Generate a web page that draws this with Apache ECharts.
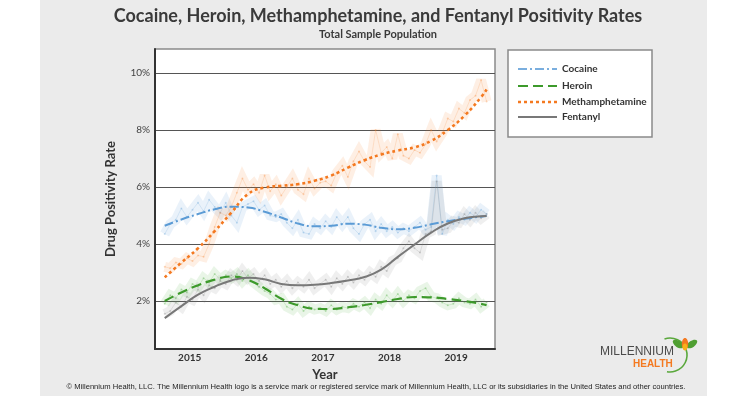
<!DOCTYPE html>
<html><head><meta charset="utf-8">
<script src="https://cdn.jsdelivr.net/npm/echarts@6/dist/echarts.min.js"></script>
<style>html,body{margin:0;padding:0;background:#fff}#c{width:756px;height:396px}</style>
</head><body><div id="c"></div>
<script>
// ---------- data ----------
const seriesNames = ['Cocaine', 'Heroin', 'Methamphetamine', 'Fentanyl'];
const yTickValues = [2, 4, 6, 8, 10];
const xTickValues = [2015, 2016, 2017, 2018, 2019];

// smoothed trend curves (decimal year, % positivity)
const trendTimes = [2014.625, 2014.875, 2015.125, 2015.375, 2015.625, 2015.875, 2016.125, 2016.375, 2016.625, 2016.875,
  2017.125, 2017.375, 2017.625, 2017.875, 2018.125, 2018.375, 2018.625, 2018.875, 2019.125, 2019.375, 2019.458];
const cocaineTrend = [4.64, 4.86, 5.05, 5.22, 5.31, 5.28, 5.13, 4.93, 4.72, 4.62,
  4.64, 4.71, 4.68, 4.57, 4.52, 4.57, 4.69, 4.80, 4.89, 4.96, 4.98];
const heroinTrend = [2.00, 2.30, 2.55, 2.75, 2.86, 2.74, 2.45, 2.08, 1.85, 1.73,
  1.72, 1.78, 1.86, 1.96, 2.07, 2.14, 2.13, 2.07, 2.00, 1.90, 1.85];
const methTrend = [2.83, 3.35, 3.85, 4.45, 5.10, 5.75, 5.98, 6.04, 6.10, 6.22,
  6.40, 6.68, 6.94, 7.14, 7.28, 7.39, 7.62, 8.00, 8.50, 9.15, 9.42];
const fentanylTrend = [1.40, 1.82, 2.22, 2.50, 2.72, 2.82, 2.76, 2.60, 2.55, 2.57,
  2.63, 2.72, 2.84, 3.10, 3.55, 3.98, 4.40, 4.72, 4.90, 4.97, 4.98];

// monthly observed rates, Aug 2014 .. Jun 2019
const rawStart = { year: 2014, month: 8 };
const cocaineRaw = [4.35, 4.70, 4.85, 5.25, 4.95, 5.20, 5.45, 5.15, 5.55, 5.30, 5.10, 5.45, 5.00, 4.75, 5.30, 5.40, 5.50,
  5.20, 5.35, 5.00, 4.95, 5.05, 4.75, 4.55, 4.85, 4.40, 4.35, 4.70, 4.55,
  4.80, 4.60, 4.95, 4.70, 4.95, 4.55, 4.35, 4.70, 4.85, 4.45, 4.70, 4.45,
  4.60, 4.40, 4.55, 4.45, 4.60, 4.75, 4.50, 4.60, 6.40, 4.35, 4.85, 4.70,
  4.95, 4.85, 5.10, 4.95, 5.20, 5.05];
const heroinRaw = [1.90, 2.20, 2.10, 2.40, 2.30, 2.60, 2.50, 2.80, 2.65, 2.95, 2.75, 2.90, 2.80, 2.95, 2.70, 2.90, 2.65,
  2.50, 2.35, 2.25, 2.05, 2.10, 1.80, 1.70, 1.90, 1.65, 1.80, 1.70, 1.75,
  1.65, 1.85, 1.70, 1.80, 1.75, 1.90, 1.80, 1.95, 1.75, 2.05, 1.90, 2.20,
  2.00, 2.25, 2.00, 2.20, 2.10, 2.35, 2.45, 2.15, 2.10, 1.95, 1.85, 1.90,
  2.10, 1.95, 1.90, 2.05, 1.80, 1.95];
const methRaw = [3.20, 3.15, 3.35, 3.30, 3.50, 3.40, 3.60, 3.55, 4.00, 4.60, 5.10, 5.00, 5.30, 5.80, 6.30, 5.90, 6.10,
  5.80, 6.40, 5.85, 6.10, 5.70, 6.00, 6.30, 5.90, 5.75, 6.30, 5.95, 6.15,
  6.20, 6.05, 6.50, 6.75, 6.35, 6.90, 7.25, 6.90, 6.70, 8.00, 7.20, 7.40,
  7.00, 7.85, 7.10, 7.00, 7.30, 7.20, 7.50, 8.00, 7.60, 7.90, 8.40, 8.30,
  8.75, 8.60, 9.05, 9.20, 9.75, 9.00];
const fentanylRaw = [1.55, 1.65, 1.95, 1.80, 2.15, 2.05, 2.40, 2.20, 2.55, 2.45, 2.70, 2.60, 2.90, 2.75, 3.05, 2.80, 2.95,
  2.70, 2.90, 2.60, 2.75, 2.50, 2.70, 2.45, 2.65, 2.50, 2.75, 2.45, 2.60,
  2.75, 2.50, 2.80, 2.60, 2.85, 2.65, 2.90, 2.75, 3.00, 2.85, 3.20, 3.05,
  3.40, 3.50, 3.85, 4.10, 3.85, 3.70, 4.35, 4.45, 6.20, 4.50, 4.55, 4.80,
  4.75, 5.05, 4.85, 5.10, 4.90, 5.05];

// ---------- build ----------
const colors = ['#5b9bd5', '#3d9a2b', '#f47920', '#787878'];
const legendColors = ['#7aaede', '#3d9a2b', '#f47920', '#787878'];
const bandColors = ['rgba(91,155,213,0.13)', 'rgba(70,170,55,0.12)', 'rgba(244,121,32,0.12)', 'rgba(120,120,120,0.12)'];
const dotColors = ['rgba(91,155,213,0.30)', 'rgba(70,170,55,0.30)', 'rgba(244,121,32,0.28)', 'rgba(120,120,120,0.30)'];
const dashes = [[9, 3, 2, 3], [10, 5], [3, 3], 'solid'];
const widths = [2, 2.2, 2.6, 2];
const trends = [cocaineTrend, heroinTrend, methTrend, fentanylTrend];
const raws = [cocaineRaw, heroinRaw, methRaw, fentanylRaw];

function rawTime(i) {
  const m = rawStart.month - 1 + i;
  return rawStart.year + Math.floor(m / 12) + ((m % 12) + 0.5) / 12;
}
const series = [];
raws.forEach((r, k) => {
  const d = r.map((v, i) => [rawTime(i), v]);
  series.push({
    type: 'line', name: 'band' + k, data: d, symbol: 'none', silent: true, z: 1,
    lineStyle: { width: 10, color: bandColors[k], join: 'miter', miterLimit: 3, cap: 'butt' }
  });
  series.push({
    type: 'line', name: 'raw' + k, data: d, symbol: 'circle', symbolSize: 2, silent: true, z: 2,
    itemStyle: { color: dotColors[k] },
    lineStyle: { width: 0.6, color: dotColors[k] }
  });
});
trends.forEach((t, k) => {
  series.push({
    type: 'line', name: seriesNames[k], data: t.map((v, i) => [trendTimes[i], v]),
    symbol: 'none', smooth: 0.5, z: 3, color: colors[k],
    lineStyle: { width: widths[k], color: colors[k], type: dashes[k] }
  });
});

const F = 'Lato, "Open Sans", sans-serif';
const legendRowsY = [69, 86, 102, 117];
const legendGraphics = [];
seriesNames.forEach((n, k) => {
  const dash = dashes[k] === 'solid' ? null : dashes[k];
  legendGraphics.push({ type: 'line', z: 5, shape: { x1: 518, y1: legendRowsY[k], x2: 557, y2: legendRowsY[k] },
    style: { stroke: legendColors[k], lineWidth: widths[k], lineDash: dash } });
  legendGraphics.push({ type: 'text', z: 5, x: 562, y: legendRowsY[k], style: { text: n, font: 'bold 10px ' + F, fill: '#333', verticalAlign: 'middle' } });
});

const chart = echarts.init(document.getElementById('c'), null, { renderer: 'canvas' });
chart.setOption({
  animation: false,
  backgroundColor: '#ffffff',
  textStyle: { fontFamily: F },
  graphic: [
    { type: 'rect', z: -10, silent: true, shape: { x: 40, y: 0, width: 667, height: 396 }, style: { fill: '#ebebeb' } },
    { type: 'text', left: 'center', top: 7, style: { text: 'Cocaine, Heroin, Methamphetamine, and Fentanyl Positivity Rates', font: 'bold 18px ' + F, fill: '#3a3a3a' } },
    { type: 'text', left: 'center', top: 29, style: { text: 'Total Sample Population', font: 'bold 11px ' + F, fill: '#3a3a3a' } },
    { type: 'rect', z: 0, shape: { x: 508, y: 50, width: 144, height: 87 }, style: { fill: '#fff', stroke: '#8a8a8a', lineWidth: 1.5 } },
    ...legendGraphics,
    { type: 'text', x: 376, y: 383, style: { text: '\u00a9 Millennium Health, LLC. The Millennium Health logo is a service mark or registered service mark of Millennium Health, LLC or its subsidiaries in the United States and other countries.', font: '7.6px "Liberation Sans", sans-serif', fill: '#222', align: 'center' } },
    { type: 'text', x: 600, y: 346, style: { text: 'MILLENNIUM', font: '12px "Liberation Sans", sans-serif', fill: '#4a4a4a' } },
    { type: 'text', x: 633, y: 359, style: { text: 'HEALTH', font: 'bold 10px "Liberation Sans", sans-serif', fill: '#f47920' } },
    { type: 'arc', shape: { cx: 670, cy: 355, r: 17, startAngle: -1.9, endAngle: 1.75 }, style: { stroke: '#5aa83c', lineWidth: 1.6, fill: 'none' } },
    { type: 'ellipse', shape: { cx: 678, cy: 344, rx: 6, ry: 3.2 }, rotation: -0.6, originX: 678, originY: 344, style: { fill: '#4f9f32' } },
    { type: 'ellipse', shape: { cx: 692, cy: 344, rx: 6, ry: 3.2 }, rotation: 0.6, originX: 692, originY: 344, style: { fill: '#4f9f32' } },
    { type: 'ellipse', shape: { cx: 685, cy: 344, rx: 3.2, ry: 6 }, style: { fill: '#f47920' } },
    { type: 'ellipse', shape: { cx: 685, cy: 347, rx: 2.4, ry: 3.5 }, style: { fill: '#f7b21a' } }
  ],
  grid: { left: 155, right: 261, top: 49, bottom: 47, show: true, backgroundColor: '#ffffff', borderColor: '#8a8a8a', borderWidth: 1.5 },
  xAxis: {
    type: 'value', min: 2014.479, max: 2019.584,
    name: 'Year', nameLocation: 'middle', nameGap: 16,
    nameTextStyle: { fontSize: 13, fontWeight: 'bold', color: '#333' },
    axisLine: { show: true, lineStyle: { color: '#333', width: 2 } },
    axisTick: { show: false, customValues: xTickValues },
    axisLabel: { customValues: xTickValues, fontSize: 10, fontWeight: 'bold', color: '#333', margin: 4, formatter: v => String(Math.round(v)) },
    splitLine: { show: false }
  },
  yAxis: {
    type: 'value', min: 0.316, max: 10.842,
    name: 'Drug Positivity Rate', nameLocation: 'middle', nameGap: 38,
    nameTextStyle: { fontSize: 13, fontWeight: 'bold', color: '#333' },
    axisLine: { show: true, lineStyle: { color: '#333', width: 2 } },
    axisTick: { show: false, customValues: yTickValues },
    axisLabel: { customValues: yTickValues, fontSize: 10, color: '#444', margin: 5, formatter: v => Math.round(v) + '%' },
    splitLine: { show: true, lineStyle: { color: '#555', width: 1.2 } }
  },
  series: series
});
</script></body></html>
